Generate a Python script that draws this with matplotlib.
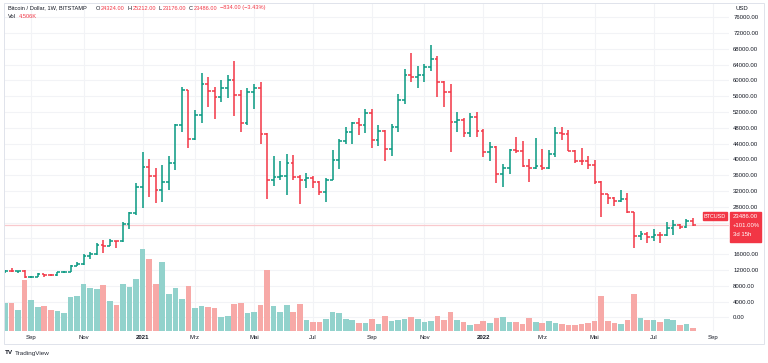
import matplotlib
matplotlib.use('Agg')
import matplotlib.pyplot as plt
from matplotlib.patches import Rectangle
from matplotlib.transforms import blended_transform_factory
import numpy as np

plt.rcParams['font.family'] = ['Liberation Sans', 'DejaVu Sans']

W, H = 768, 363

# Weekly BTC/USD bars (Bitstamp), first bar = week of 10 Aug 2020, last = week of 15 Aug 2022
opens = [11680, 11850, 11650, 11700, 10260, 10330, 10930, 10770, 10670, 11370,
         11500, 13030, 13560, 15480, 16060, 18400, 18170, 19360, 19270, 23740,
         26470, 33000, 38200, 35800, 32260, 34300, 39200, 48600, 57500, 45200,
         51200, 59000, 57300, 55800, 58200, 60000, 56300, 49200, 57000, 58200,
         46400, 34700, 35600, 35800, 39100, 35500, 34700, 35300, 34250, 31800,
         34800, 39800, 44600, 47000, 49300, 48800, 51800, 45000, 47300, 42700,
         48200, 55000, 61500, 61000, 61300, 63300, 65500, 59700, 57200, 49400,
         50100, 46700, 50800, 47300, 41900, 43100, 36300, 37900, 42400, 42200,
         38400, 37700, 38400, 37800, 41300, 46800, 46400, 42200, 39700, 39500,
         38500, 34300, 31300, 30300, 29450, 29900, 26600, 20500, 21100, 20250,
         20850, 20800, 22600, 23300, 22950, 24324]
highs = [12080, 12470, 11710, 12090, 10580, 11100, 10990, 10950, 11490, 11720,
         13350, 14100, 15960, 16480, 18800, 19500, 19900, 19420, 24200, 26800,
         34000, 41950, 40100, 37850, 38500, 40950, 49000, 58350, 57600, 52600,
         61800, 61000, 58400, 60000, 61300, 64900, 57500, 58200, 59000, 59600,
         46700, 40900, 39500, 41300, 41000, 36000, 36650, 35900, 34600, 35200,
         42300, 45300, 48100, 49400, 50500, 52900, 52900, 48800, 47500, 49000,
         56500, 62900, 67000, 63700, 64200, 69000, 66300, 59900, 59100, 51900,
         50500, 51800, 52100, 47600, 44500, 43500, 38900, 42600, 45800, 44700,
         40000, 45400, 42600, 42300, 48200, 48200, 47400, 42400, 42900, 40800,
         39900, 34500, 31300, 30600, 32300, 31500, 26800, 21900, 21500, 22400,
         21600, 24200, 24600, 23600, 25000, 25212]
lows = [11120, 11500, 11130, 9880, 9880, 10210, 10140, 10380, 10520, 11200,
        11400, 12900, 13220, 14800, 15800, 16200, 18100, 17580, 19000, 22400,
        26000, 27700, 30400, 28850, 29250, 32300, 37400, 47000, 43000, 45000,
        49300, 53300, 50300, 54600, 55500, 51000, 47000, 48700, 52900, 43900,
        30000, 33300, 34800, 31000, 34900, 28800, 32700, 32700, 31000, 29300,
        34800, 37500, 43800, 43800, 46300, 46800, 42800, 43300, 39600, 40800,
        47000, 54000, 59600, 58000, 59500, 62300, 55700, 53300, 42000, 47000,
        45600, 45600, 45700, 40600, 39700, 34000, 32900, 36300, 41700, 38000,
        34300, 37500, 37200, 37600, 40500, 45000, 42100, 39200, 38600, 37600,
        33700, 25400, 28700, 28100, 29300, 26500, 17600, 19700, 18800, 19300,
        18900, 20700, 20800, 22400, 22700, 23176]
closes = [11850, 11650, 11700, 10260, 10330, 10930, 10770, 10670, 11370, 11500,
          13030, 13560, 15480, 16060, 18400, 18170, 19360, 19270, 23740, 26470,
          33000, 38200, 35800, 32260, 34300, 39200, 48600, 57500, 45200, 51200,
          59000, 57300, 55800, 58200, 60000, 56300, 49200, 57000, 58200, 46400,
          34700, 35600, 35800, 39100, 35500, 34700, 35300, 34250, 31800, 34800,
          39800, 44600, 47000, 49300, 48800, 51800, 45000, 47300, 42700, 48200,
          55000, 61500, 61000, 61300, 63300, 65500, 59700, 57200, 49400, 50100,
          46700, 50800, 47300, 41900, 43100, 36300, 37900, 42400, 42200, 38400,
          37700, 38400, 37800, 41300, 46800, 46400, 42200, 39700, 39500, 38500,
          34300, 31300, 30300, 29450, 29900, 26600, 20500, 21100, 20250, 20850,
          20800, 22600, 23300, 22950, 24320, 23486]
# volume in thousand BTC
volumes = [41.6, 42.5, 31.5, 76.5, 46.5, 36.0, 37.5, 32.0, 30.5, 26.5,
           51.0, 53.0, 71.0, 64.0, 63.5, 68.5, 45.0, 39.0, 71.0, 66.5,
           77.5, 123.0, 108.5, 71.0, 103.0, 55.0, 64.0, 48.0, 67.5, 35.0,
           37.5, 36.0, 34.5, 21.5, 23.0, 40.5, 42.5, 27.5, 29.0, 38.5,
           91.5, 37.5, 29.0, 38.5, 29.0, 40.0, 17.0, 13.5, 13.5, 18.5,
           28.0, 27.0, 18.5, 16.0, 12.0, 12.0, 18.5, 11.0, 22.5, 14.5,
           16.5, 17.5, 21.0, 18.0, 14.0, 14.5, 22.0, 17.0, 28.5, 16.0,
           13.5, 9.5, 10.5, 15.0, 12.5, 19.5, 20.5, 13.5, 13.0, 10.5,
           19.0, 14.0, 12.0, 15.0, 12.0, 11.0, 9.5, 9.0, 10.5, 12.0,
           15.0, 52.5, 14.5, 12.0, 10.5, 16.0, 55.0, 20.0, 17.0, 16.0,
           13.5, 18.5, 16.5, 9.0, 10.5, 4.506]

# first weekly bar of every second month
month_bars = [4, 12, 21, 29, 38, 47, 56, 64, 73, 82, 90, 99, 108]
month_labels = ['Sep', 'Nov', '2021', 'Mrz', 'Mai', 'Jul', 'Sep', 'Nov', '2022',
                'Mrz', 'Mai', 'Jul', 'Sep']
price_ticks = np.arange(0, 76001, 4000)
hidden_ticks = [20000, 24000]  # covered by the price label
last_price = 23486

UP, DOWN = '#089981', '#f23645'
VOL_UP, VOL_DOWN = '#92d2cc', '#f7a9a7'
GRID = '#f2f3f6'
TEXT = '#131722'


def px(x, y):
    """Pixel (von oben links) -> Figurenkoordinaten."""
    return x / W, 1 - y / H


fig = plt.figure(figsize=(W / 100, H / 100), dpi=100)
rect = [4 / W, (H - 331) / H, (729 - 4) / W, (331 - 3) / H]

# Volumen unten, Preis-Achse darueber (transparent)
axv = fig.add_axes(rect)
ax = fig.add_axes(rect)
ax.patch.set_visible(False)

x = np.arange(len(opens))
o = np.array(opens)
c = np.array(closes)
up = c >= o

xlim = (-0.15, 110.5)
ax.set_xlim(*xlim)
axv.set_xlim(*xlim)
ax.set_ylim(-3470, 79630)
axv.set_ylim(0, 492)

# Gitter (hinter dem Volumen)
grid_tr = blended_transform_factory(axv.transData, ax.transData)
axv.hlines(price_ticks, xlim[0], xlim[1], colors=GRID, lw=0.8,
           transform=grid_tr, zorder=0)
axv.vlines(month_bars, 0, 492, colors=GRID, lw=0.8, zorder=0)

# Volumen
axv.bar(x, volumes, width=0.86,
        color=[VOL_UP if u else VOL_DOWN for u in up], zorder=1)

# aktuelle Preislinie
ax.axhline(last_price, color='#f9c9cd', lw=0.9, zorder=1)

# OHLC-Balken
colors = [UP if u else DOWN for u in up]
ax.vlines(x, lows, highs, colors=colors, lw=1.1, zorder=3)
ax.hlines(opens, x - 0.42, x, colors=colors, lw=1.1, zorder=3)
ax.hlines(closes, x, x + 0.42, colors=colors, lw=1.1, zorder=3)

for a in (ax, axv):
    for s in a.spines.values():
        s.set_visible(False)
axv.set_xticks([])
axv.set_yticks([])

ax.yaxis.tick_right()
ax.set_yticks(price_ticks)
ax.set_yticklabels(["" if t in hidden_ticks else f"{t:.2f}" for t in price_ticks])
ax.tick_params(axis='y', length=0, pad=3, labelsize=4.3, labelcolor=TEXT)
ax.set_xticks(month_bars)
ax.set_xticklabels(month_labels)
ax.tick_params(axis='x', length=0, pad=3, labelsize=4.3, labelcolor=TEXT)
for lbl in ax.get_xticklabels():
    if lbl.get_text().startswith('20'):
        lbl.set_fontweight('bold')

# Rahmen
fig.patches.append(Rectangle(px(3.5, 344), 760 / W, 341.5 / H,
                             transform=fig.transFigure, fill=False,
                             edgecolor='#e0e3eb', lw=0.7))

# Kopfzeile: Buchstabe an Referenzposition, Wert direkt dahinter
fs = 4.1
renderer = fig.canvas.get_renderer()


def put(xp, yp, txt, col, **kw):
    t = fig.text(*px(xp, yp), txt, fontsize=fs, color=col, va='center', **kw)
    return xp + t.get_window_extent(renderer).width


put(8, 8, "Bitcoin / Dollar, 1W, BITSTAMP", TEXT)
header = [(96, "O", "24324.00"), (125, "H", "25212.00"),
          (156, "L", "23176.00"), (185, "C", "23486.00")]
end = 0
for hx, letter, val in header:
    lx = put(max(hx, end + 3), 8, letter, TEXT)
    end = put(lx + 0.6, 8, val, DOWN)
put(max(214, end + 3), 8, "\u2212834.00 (\u22123.43%)", DOWN)
vx = put(8, 17, "Vol", TEXT)
put(vx + 3, 17, "4.506K", DOWN)

# Preisskala oben
fig.text(*px(735, 8), "USD", fontsize=4.3, color=TEXT, va='center')

# Symbol- und Preis-Label
fig.patches.append(Rectangle(px(703, 220), 24 / W, 8 / H,
                             transform=fig.transFigure, color=DOWN, zorder=5))
fig.text(*px(715, 216), "BTCUSD", fontsize=4, color='white', ha='center',
         va='center', zorder=6)
fig.patches.append(Rectangle(px(730, 242), 31 / W, 30 / H,
                             transform=fig.transFigure, color=DOWN, zorder=5))
for ty, txt in [(216, "23486.00"), (225, "+101.00%"), (234, "3d 15h")]:
    fig.text(*px(733, ty), txt, fontsize=4.3, color='white', va='center',
             zorder=6)

# Logo
fig.text(*px(5, 353), "TV", fontsize=4.6, color=TEXT, fontweight='bold',
         va='center')
fig.text(*px(15, 353), "TradingView", fontsize=4.6, color='#2a2e39',
         va='center')

fig.savefig('out.png', dpi=100)
